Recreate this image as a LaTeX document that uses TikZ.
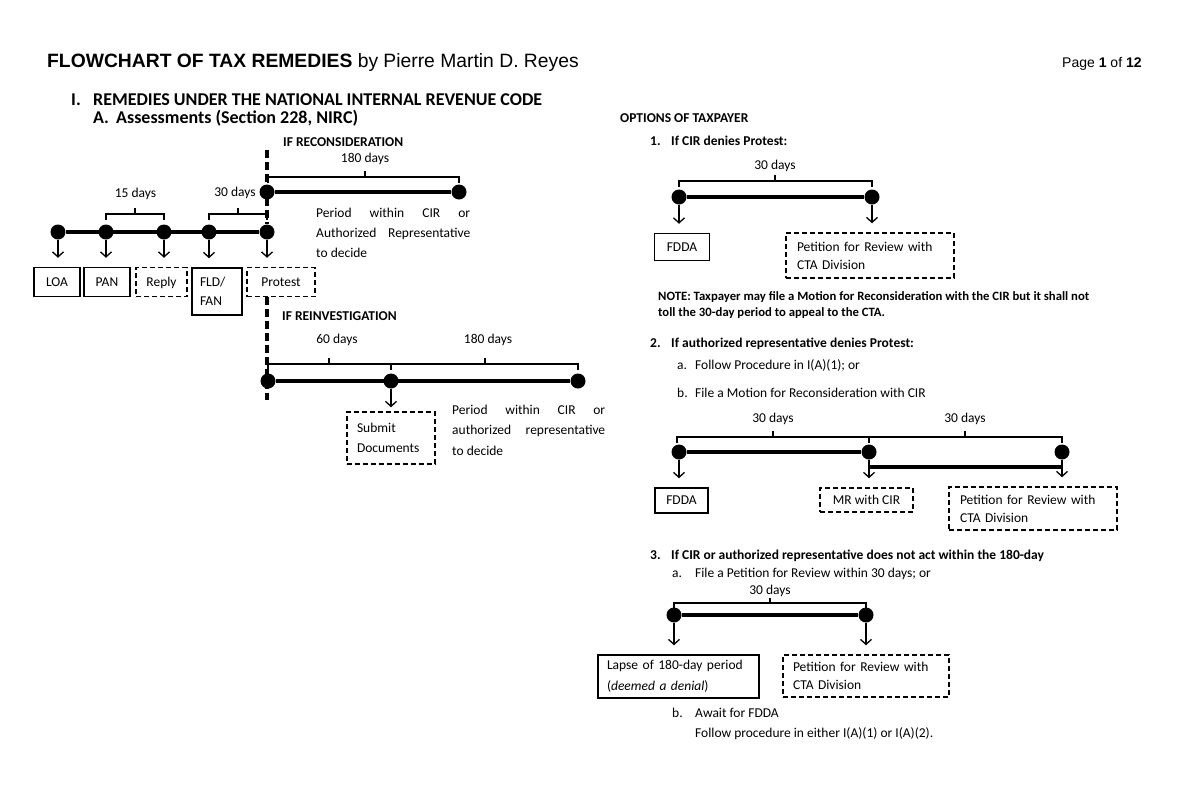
\documentclass[tikz,border=0pt]{standalone}
\usepackage{fontspec}
\setmainfont{Carlito}
\newfontfamily\titlefont{Liberation Sans}
\usetikzlibrary{arrows.meta}
\begin{document}
\begin{tikzpicture}[x=1pt,y=-1pt,
  every node/.style={font=\fontsize{13.5}{18}\selectfont},
  txt/.style={anchor=base west,inner sep=0pt},
  ctxt/.style={anchor=base,inner sep=0pt},
  hd/.style={anchor=base west,inner sep=0pt,font=\fontsize{13.5}{16}\selectfont\bfseries},
  bighd/.style={anchor=base west,inner sep=0pt,font=\fontsize{18}{20}\selectfont\bfseries},
  dot/.style={circle,fill=black,inner sep=0pt,minimum size=15pt},
  tline/.style={line width=4pt},
  brk/.style={line width=1.4pt},
  arr/.style={line width=1.3pt,-{Straight Barb[length=5pt,width=11pt,line width=1.3pt]},shorten >=9pt},
  sbox/.style={draw,line width=1.5pt,inner sep=0pt,align=center},
  dbox/.style={sbox,dash pattern=on 5pt off 3pt},
  oneline/.style={text height=8.5pt,text depth=0pt},
  vdash/.style={line width=3.5pt,dash pattern=on 8pt off 4pt}]
\fill[white] (0,0) rectangle (1200,785);
\useasboundingbox (0,0) rectangle (1200,785);

% ---------- header ----------
\node[txt,font=\titlefont\fontsize{19.3}{22}\selectfont] (title) at (47,67) {\textbf{FLOWCHART OF TAX REMEDIES} by Pierre Martin D. Reyes};
\node[txt,font=\titlefont\fontsize{14}{16}\selectfont] (page) at (1062,67) {Page \textbf{1} of \textbf{12}};
\node[bighd] (h1n) at (71,105) {I.};
\node[bighd] (h1) at (93,105) {REMEDIES UNDER THE NATIONAL INTERNAL REVENUE CODE};
\node[bighd] (h2n) at (93,123) {A.};
\node[bighd] (h2) at (116,123) {Assessments (Section 228, NIRC)};

% ---------- main timeline ----------
\node[dot] (loaD) at (58,232) {};
\node[dot] (panD) at (106,232) {};
\node[dot] (repD) at (164,232) {};
\node[dot] (fldD) at (209,232) {};
\node[dot] (proD) at (267,232) {};
\draw[tline] (loaD) -- (proD);

\node[sbox,oneline,minimum width=46,minimum height=29] (loa) at (57,282) {LOA};
\node[sbox,oneline,minimum width=46,minimum height=29] (pan) at (107,282) {PAN};
\node[dbox,oneline,minimum width=51,minimum height=29] (reply) at (161.5,282) {Reply};
\node[sbox,minimum width=50,minimum height=47,text width=34,align=left,font=\fontsize{13.5}{19}\selectfont] (fld) at (217,291.5) {FLD/\\FAN};
\node[dbox,oneline,minimum width=68,minimum height=29] (protest) at (281,282) {Protest};

\draw[arr] (loaD) -- (loaD |- loa.north);
\draw[arr] (panD) -- (panD |- pan.north);
\draw[arr] (repD) -- (repD |- reply.north);
\draw[arr] (fldD) -- (fldD |- fld.north);
\draw[arr] (proD) -- (proD |- protest.north);

\draw[brk] (106,220) -- (106,214) -- (164,214) -- (164,220);
\draw[brk] (135,214) -- (135,208);
\node[ctxt] (l15) at (135.5,197) {15 days};
\draw[brk] (209,220) -- (209,214) -- (267,214) -- (267,220);
\draw[brk] (238,214) -- (238,208);
\node[ctxt] (l30a) at (235,196) {30 days};

% ---------- reconsideration ----------
\node[hd] (rch) at (283,146) {IF RECONSIDERATION};
\coordinate (vtop) at (267,150);
\node[dot] (rcA) at (267,192) {};
\node[dot] (rcB) at (459,192) {};
\draw[vdash] (vtop) -- (proD);
\draw[tline] (rcA) -- (rcB);
\draw[brk] (268,183) -- (268,177) -- (459,177) -- (459,183);
\draw[brk] (365,177) -- (365,171);
\node[ctxt] (l180a) at (365,162) {180 days};
\node[txt] (p1a) at (316,217) {\makebox[154pt][s]{Period within CIR or}};
\node[txt] (p1b) at (316,237) {\makebox[154pt][s]{Authorized Representative}};
\node[txt] (p1c) at (316,257) {to decide};

% ---------- reinvestigation ----------
\coordinate (vbot) at (267,400);
\draw[vdash] (protest.south -| proD) -- (vbot);
\node[hd] (rih) at (282,320) {IF REINVESTIGATION};
\node[ctxt] (l60) at (337,343) {60 days};
\node[ctxt] (l180b) at (488,343) {180 days};
\draw[brk] (268,370) -- (268,364) -- (578,364) -- (578,370);
\draw[brk] (391,364) -- (391,370);
\draw[brk] (329,364) -- (329,358);
\draw[brk] (485,364) -- (485,358);
\node[dot] (riA) at (268,381) {};
\node[dot] (riB) at (391,381) {};
\node[dot] (riC) at (578,381) {};
\draw[tline] (riA) -- (riC);
\node[dbox,minimum width=88,minimum height=52,text width=68,align=left,font=\fontsize{13.5}{20}\selectfont] (submit) at (391,438) {Submit\\Documents};
\draw[arr,shorten >=4pt] (riB) -- (riB |- submit.north);
\node[txt] (p2a) at (452,414) {\makebox[153pt][s]{Period within CIR or}};
\node[txt] (p2b) at (452,434) {\makebox[153pt][s]{authorized representative}};
\node[txt] (p2c) at (452,455) {to decide};

% ---------- options ----------
\node[hd] (opt) at (620,122) {OPTIONS OF TAXPAYER};
\node[hd] (o1n) at (650,145) {1.};
\node[hd] (o1t) at (671,145) {If CIR denies Protest:};
\node[ctxt] (l30b) at (775,169) {30 days};
\draw[brk] (679,187) -- (679,181) -- (872,181) -- (872,187);
\draw[brk] (775,181) -- (775,175);
\node[dot] (o1a) at (679,197) {};
\node[dot] (o1b) at (872,197) {};
\draw[tline] (o1a) -- (o1b);
\node[sbox,oneline,minimum width=55,minimum height=27] (fdda1) at (682,247) {FDDA};
\node[dbox,minimum width=168,minimum height=45,text width=146,align=left] (pet1) at (870,255.5) {Petition for Review with\\CTA Division};
\draw[arr] (o1a) -- (o1a |- fdda1.north);
\draw[arr] (o1b) -- (o1b |- pet1.north);
\node[txt,font=\fontsize{12.7}{15}\selectfont\bfseries] (note1) at (658,300) {NOTE: Taxpayer may file a Motion for Reconsideration with the CIR but it shall not};
\node[txt,font=\fontsize{12.7}{15}\selectfont\bfseries] (note2) at (658,316) {toll the 30-day period to appeal to the CTA.};

% ---------- option 2 ----------
\node[hd] (o2n) at (650,347) {2.};
\node[hd] (o2t) at (671,347) {If authorized representative denies Protest:};
\node[txt] (o2an) at (677,369) {a.};
\node[txt] (o2at) at (695,369) {Follow Procedure in I(A)(1); or};
\node[txt] (o2bn) at (677,397) {b.};
\node[txt] (o2bt) at (695,397) {File a Motion for Reconsideration with CIR};
\node[ctxt] (l30c) at (773,422) {30 days};
\node[ctxt] (l30d) at (965,422) {30 days};
\draw[brk] (677,443) -- (677,437) -- (1062,437) -- (1062,443);
\draw[brk] (869,437) -- (869,443);
\draw[brk] (773,437) -- (773,431);
\draw[brk] (965,437) -- (965,431);
\node[dot] (o2a) at (679,452) {};
\node[dot] (o2b) at (869,452) {};
\node[dot] (o2c) at (1062,452) {};
\draw[tline] (o2a) -- (o2b);
\node[sbox,oneline,minimum width=53,minimum height=25] (fdda2) at (681.5,500.5) {FDDA};
\node[dbox,oneline,minimum width=93,minimum height=24] (mr) at (866.5,500) {MR with CIR};
\node[dbox,minimum width=168,minimum height=43,text width=146,align=left] (pet2) at (1033,508.5) {Petition for Review with\\CTA Division};
\draw[arr] (o2a) -- (o2a |- fdda2.north);
\draw[arr] (o2b) -- (o2b |- mr.north);
\draw[arr] (o2c) -- (o2c |- pet2.north);
\draw[tline] (o2b |- 0,467) -- (o2c |- 0,467);

% ---------- option 3 ----------
\node[hd] (o3n) at (650,559) {3.};
\node[hd] (o3t) at (671,559) {If CIR or authorized representative does not act within the 180-day};
\node[txt] (o3an) at (672,577) {a.};
\node[txt] (o3at) at (695,577) {File a Petition for Review within 30 days; or};
\node[ctxt] (l30e) at (770,594) {30 days};
\draw[brk] (674,609) -- (674,603) -- (866,603) -- (866,609);
\draw[brk] (770,603) -- (770,598);
\node[dot] (o3a) at (674,615) {};
\node[dot] (o3b) at (866,615) {};
\draw[tline] (o3a) -- (o3b);
\node[sbox,minimum width=161,minimum height=43,text width=143,align=left,font=\fontsize{13.5}{21}\selectfont] (lapse) at (678.5,676.5) {Lapse of 180-day period\\(\textit{deemed a denial})};
\node[dbox,minimum width=166,minimum height=42,text width=146,align=left] (pet3) at (866,676) {Petition for Review with\\CTA Division};
\draw[arr] (o3a) -- (o3a |- lapse.north);
\draw[arr] (o3b) -- (o3b |- pet3.north);
\node[txt] (o3bn) at (672,717) {b.};
\node[txt] (o3bt) at (695,717) {Await for FDDA};
\node[txt] (o3c) at (695,737) {Follow procedure in either I(A)(1) or I(A)(2).};
\end{tikzpicture}
\end{document}
